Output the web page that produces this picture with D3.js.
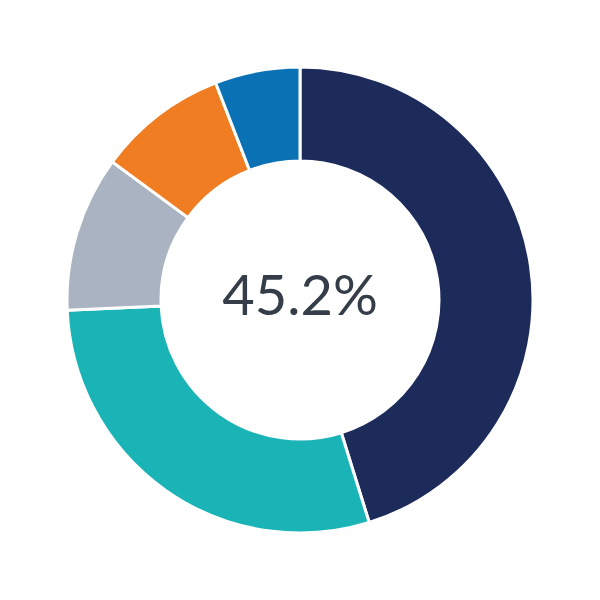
<!DOCTYPE html>
<html lang="en">
<head>
  <meta charset="UTF-8" />
  <title>Donut</title>
  <script src="https://d3js.org/d3.v7.min.js"></script>
  <style>
    body { margin: 0; background: #fff; }
  </style>
</head>
<body>
<svg id="chart" width="600" height="600"></svg>
<script>
const categories = ["A", "B", "C", "D", "E"];
const values = [45.2, 29.1, 10.8, 9.0, 5.9];
const colors = ["#1c2b5a", "#1bb4b6", "#a9b3c1", "#f07d22", "#0a72b4"];
const centerLabel = "45.2%";

const width = 600, height = 600;
const outerR = 233, innerR = 139;

const svg = d3.select("#chart");
const g = svg.append("g").attr("transform", `translate(${width / 2},${height / 2})`);

const pie = d3.pie().sort(null).value(d => d.value);
const arc = d3.arc().innerRadius(innerR).outerRadius(outerR);

const data = categories.map((c, i) => ({ name: c, value: values[i], color: colors[i] }));

g.selectAll("path")
  .data(pie(data))
  .enter().append("path")
    .attr("d", arc)
    .attr("fill", d => d.data.color)
    .attr("stroke", "#fff")
    .attr("stroke-width", 3);

g.append("text")
  .attr("text-anchor", "middle")
  .attr("y", 15)
  .style("font-family", "Lato, sans-serif")
  .style("font-weight", 400)
  .style("font-size", "56px")
  .style("fill", "#353d48")
  .text(centerLabel);
</script>
</body>
</html>
